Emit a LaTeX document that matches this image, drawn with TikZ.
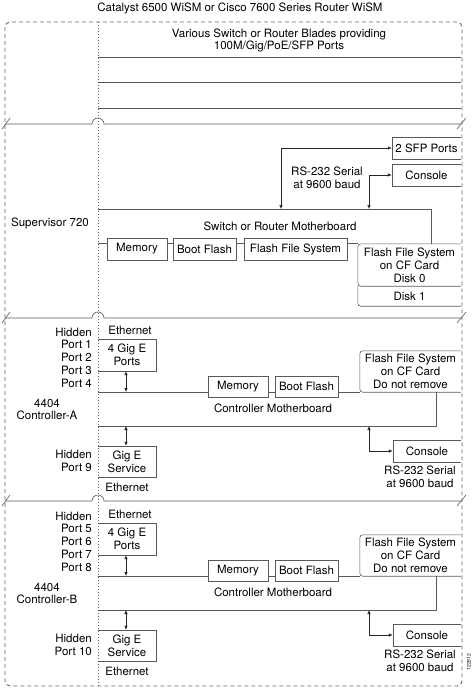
\documentclass[tikz,border=0pt]{standalone}
\usepackage{fontspec}
\setmainfont{TeX Gyre Heros}
\usetikzlibrary{arrows.meta}
\begin{document}
\begin{tikzpicture}[x=1pt,y=-1pt,
  every node/.style={font=\fontsize{11.5}{12.8}\selectfont, inner sep=0pt},
  ln/.style={draw=black!65, line width=0.6pt},
  box/.style={ln, fill=white, align=center},
  txt/.style={align=center},
  dbl/.style={draw=black!85, line width=0.6pt, {Latex[length=4pt,width=3.5pt]}-{Latex[length=4pt,width=3.5pt]}},
  border/.style={draw=black!60, line width=0.9pt, dash pattern=on 4pt off 3pt},
  dotv/.style={draw=black!60, line width=1pt, dash pattern=on 0.8pt off 2.2pt}
]
\useasboundingbox (0,0) rectangle (474,690);

\node (title) at (240,8) {Catalyst 6500 WiSM or Cisco 7600 Series Router WiSM};

\draw[border, rounded corners=5pt] (5,22) rectangle (462,686);
\draw[dotv] (98,22) -- (98,686);

% blades
\node[txt] (blades) at (279,40.5) {Various Switch or Router Blades providing\\100M/Gig/PoE/SFP Ports};
\foreach \y in {57,82,108} \draw[ln] (98,\y) -- (461,\y);

% dividers
\foreach \y in {124,318,501} {
  \draw[ln] (5,\y) -- (92,\y) arc[start angle=180, end angle=0, radius=6pt] -- (461,\y);
  \draw[ln] (2,\y+5) -- (10,\y-6);
  \draw[ln] (457,\y+5) -- (466,\y-6);
}

% Supervisor 720
\node (sup) at (50,223) {Supervisor 720};
\node[minimum width=69pt, minimum height=22pt] (sfp) at (426.5,148) {2 SFP Ports};
\draw[ln] (sfp.north east) -- (sfp.north west) -- (sfp.south west) -- (sfp.south east);
\node[minimum width=69pt, minimum height=22pt] (con) at (426.5,175) {Console};
\draw[ln] (con.north east) -- (con.north west) -- (con.south west) -- (con.south east);
\node[txt] (rs) at (327,177.5) {RS-232 Serial\\at 9600 baud};
\draw[ln] (98,209) -- (431,209) -- (431,244);
\draw[ln] (98,243) -- (358,243);
\node (swmb) at (280,226) {Switch or Router Motherboard};
\node[box, minimum width=60pt, minimum height=22pt] (mem) at (137,249) {Memory};
\node[box, minimum width=63pt, minimum height=22pt] (bf) at (204.5,249) {Boot Flash};
\node[box, minimum width=103pt, minimum height=22pt] (ffs) at (295.5,249) {Flash File System};
\node[txt, minimum width=103pt, minimum height=42pt] (cf) at (409.5,265) {Flash File System\\on CF Card\\Disk 0};
\draw[ln, rounded corners=3pt] (cf.north east) -- (cf.north west) -- (cf.south west) -- (cf.south east);
\node[txt, minimum width=103pt, minimum height=20pt] (d1) at (409.5,296) {Disk 1};
\draw[ln, rounded corners=3pt] (d1.north west) -- (d1.south west) -- (d1.south east);
\coordinate (mbs1) at (281,209);
\coordinate (mbs2) at (369,209);
\draw[dbl] (mbs1) |- (sfp.west);
\draw[dbl] (mbs2) |- (con.west);

% Controllers
\foreach \dy/\lab/\pa/\pb/\pc/\pd/\pe/\pre in {0/A/1/2/3/4/9/a-,184/B/5/6/7/8/10/b-}{
\begin{scope}[yshift=-\dy pt, name prefix=\pre]
  \node[anchor=east, align=right] (hid) at (92,357.5) {Hidden\\Port \pa\\Port \pb\\Port \pc\\Port \pd};
  \node (eth1) at (130,330) {Ethernet};
  \node[align=center, minimum width=58pt, minimum height=32pt] (g4) at (127,355) {4 Gig E\\Ports};
  \draw[ln] (g4.north west) -- (g4.north east) -- (g4.south east) -- (g4.south west);
  \draw[ln] (98,392) -- (360,392);
  \node[box, minimum width=60pt, minimum height=21pt] (mem) at (238,386.5) {Memory};
  \node[box, minimum width=63pt, minimum height=21pt] (bf) at (306.5,386.5) {Boot Flash};
  \node[txt, minimum width=101pt, minimum height=41pt] (cf) at (410.5,371.5) {Flash File System\\on CF Card\\Do not remove};
  \draw[ln, rounded corners=3pt] (cf.north east) -- (cf.north west) -- (cf.south west) -- (cf.south east);
  \draw[ln] (436,392) -- (436,426) -- (98,426);
  \node (cmb) at (273,408) {Controller Motherboard};
  \node[align=center] (ctl) at (47,409.5) {4404\\Controller-\lab};
  \node[align=center, minimum width=58pt, minimum height=31pt] (gs) at (127,461.5) {Gig E\\Service};
  \draw[ln] (gs.north west) -- (gs.north east) -- (gs.south east) -- (gs.south west);
  \node (eth2) at (127,487) {Ethernet};
  \node[anchor=east, align=right] (hid2) at (92,461) {Hidden\\Port \pe};
  \node[minimum width=68pt, minimum height=22pt] (con) at (427,451) {Console};
  \draw[ln] (con.north east) -- (con.north west) -- (con.south west) -- (con.south east);
  \node[align=center] (rs) at (420,477) {RS-232 Serial\\at 9600 baud};
  \coordinate (mt) at (126,392);
  \coordinate (mb) at (126,426);
  \coordinate (mc) at (369,426);
  \draw[dbl] (g4.south -| mt) -- (mt);
  \draw[dbl] (mb) -- (gs.north -| mb);
  \draw[dbl] (mc) |- (con.west);
\end{scope}
}

\node[rotate=90, font=\fontsize{5}{6}\selectfont] (fig) at (469,662) {122912};
\end{tikzpicture}
\end{document}
